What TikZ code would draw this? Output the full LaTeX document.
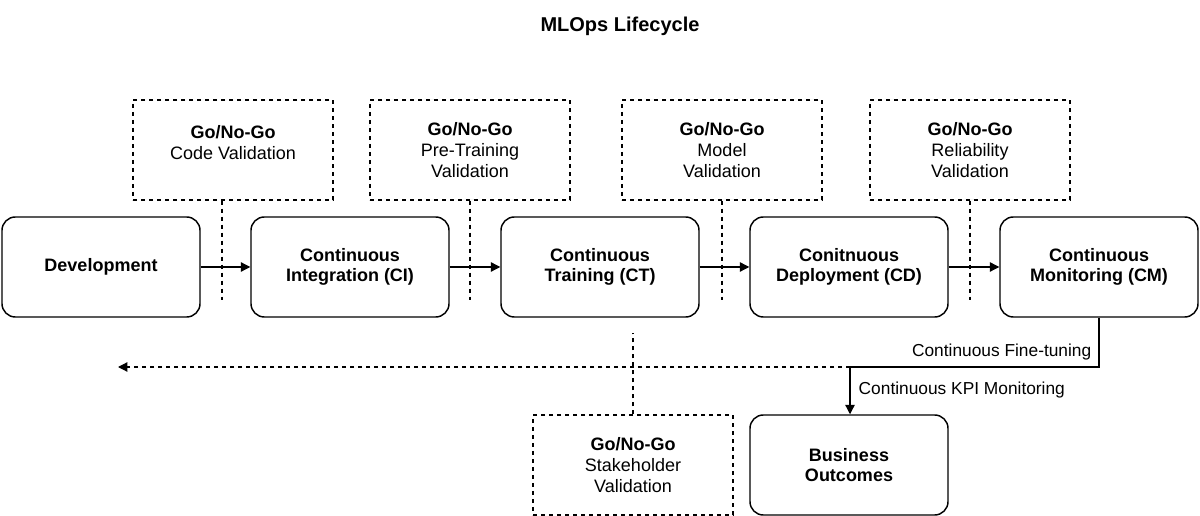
\documentclass[tikz,border=0pt]{standalone}
\usepackage{fontspec}
\setmainfont{Liberation Sans}
\usetikzlibrary{arrows.meta}
\begin{document}
\begin{tikzpicture}[x=0.75pt,y=-0.75pt,
  box/.style={draw,line width=1.1pt,rounded corners=10pt,minimum width=148.5pt,minimum height=75pt,align=center,font=\fontsize{13.5}{15.5}\selectfont\bfseries,inner sep=0pt},
  gate/.style={draw,dashed,line width=0.9pt,minimum width=150pt,minimum height=75pt,align=center,font=\fontsize{13.5}{15.5}\selectfont,inner sep=0pt},
  arr/.style={-{Triangle[length=7pt,width=7pt]},line width=0.9pt},
  vl/.style={dashed,line width=0.9pt},
  lab/.style={font=\fontsize{13}{15}\selectfont}]
\useasboundingbox (0,0) rectangle (1200,516);
\node[font=\fontsize{15}{17}\selectfont\bfseries] (title) at (620,26) {MLOps Lifecycle};
\node[box] (dev) at (101,267) {Development};
\node[box] (ci) at (350,267) {Continuous\\Integration (CI)};
\node[box] (ct) at (600,267) {Continuous\\Training (CT)};
\node[box] (cd) at (849,267) {Conitnuous\\Deployment (CD)};
\node[box] (cm) at (1099,267) {Continuous\\Monitoring (CM)};
\node[box] (bo) at (849,465) {Business\\Outcomes};
\node[gate] (g1) at (233,150) {\textbf{Go/No-Go}\\Code Validation\\[-4pt]\mbox{}};
\node[gate] (g2) at (470,150) {\textbf{Go/No-Go}\\Pre-Training\\Validation};
\node[gate] (g3) at (722,150) {\textbf{Go/No-Go}\\Model\\Validation};
\node[gate] (g4) at (970,150) {\textbf{Go/No-Go}\\Reliability\\Validation};
\node[gate] (g5) at (633,465) {\textbf{Go/No-Go}\\Stakeholder\\Validation};
\draw[arr] (dev) -- (ci);
\draw[arr] (ci) -- (ct);
\draw[arr] (ct) -- (cd);
\draw[arr] (cd) -- (cm);
\coordinate (e1) at (222,300);
\coordinate (e2) at (470,300);
\coordinate (e3) at (722,300);
\coordinate (e4) at (970,300);
\coordinate (e5) at (633,333);
\draw[vl] (g1.south -| e1) -- (e1);
\draw[vl] (g2.south) -- (e2);
\draw[vl] (g3.south) -- (e3);
\draw[vl] (g4.south) -- (e4);
\draw[vl] (g5.north) -- (e5);
\coordinate (j) at (850,367);
\coordinate (fe) at (118,367);
\draw[line width=0.9pt] (cm.south) -- (1099,367) -- (j);
\draw[arr,dashed] (j) -- (fe);
\draw[arr] (j) -- (bo.north -| j);
\node[lab,anchor=south east] (ft) at (1096,365) {Continuous Fine-tuning};
\node[lab,anchor=west] (kpi) at (854,390) {Continuous KPI Monitoring};
\end{tikzpicture}
\end{document}
